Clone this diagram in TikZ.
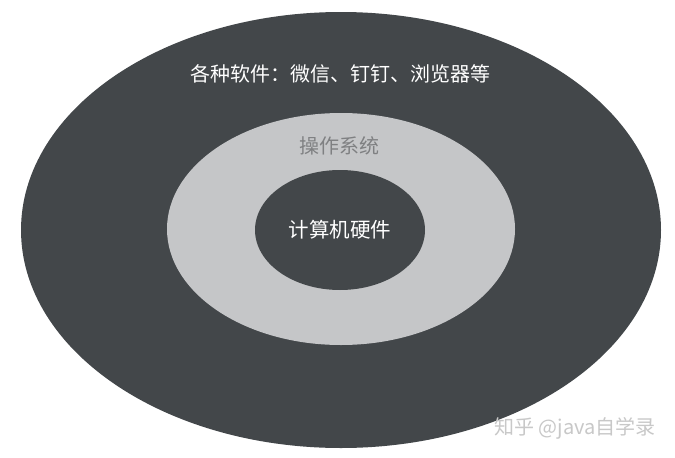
\documentclass[tikz,border=0pt]{standalone}
\usepackage{fontspec}
\usetikzlibrary{shapes.geometric}
\setmainfont{Noto Sans CJK SC}
\newfontfamily\cjk{Noto Sans CJK SC}
\definecolor{darkring}{HTML}{43474A}
\definecolor{lightring}{HTML}{C5C6C8}
\definecolor{ostext}{HTML}{7F8082}
\definecolor{wmtext}{HTML}{C8C8C8}
\begin{document}
\begin{tikzpicture}[x=1pt,y=-1pt,
  layer/.style={ellipse, inner sep=0pt, draw=none},
  lbl/.style={font=\cjk\fontsize{20}{24}\selectfont, inner sep=0pt}]
\useasboundingbox (0,0) rectangle (675,458);
\fill[white] (0,0) rectangle (675,458);
\node[layer, fill=darkring, minimum width=640pt, minimum height=436pt] (outer) at (341,230) {};
\node[layer, fill=lightring, minimum width=348pt, minimum height=232pt] (middle) at (341,229) {};
\node[layer, fill=darkring, minimum width=170pt, minimum height=120pt] (inner) at (340,230) {};
\node[lbl, text=white] (apps) at (340,74) {各种软件：微信、钉钉、浏览器等};
\node[lbl, text=ostext] (os) at (339,146) {操作系统};
\node[lbl, text=white, font=\cjk\fontsize{20.5}{24}\selectfont] (hw) at (340,230) {计算机硬件};
\node[font=\cjk\fontsize{20}{24}\selectfont, text=wmtext, inner sep=0pt] (wm) at (575,428) {知乎 @java自学录};
\end{tikzpicture}
\end{document}
